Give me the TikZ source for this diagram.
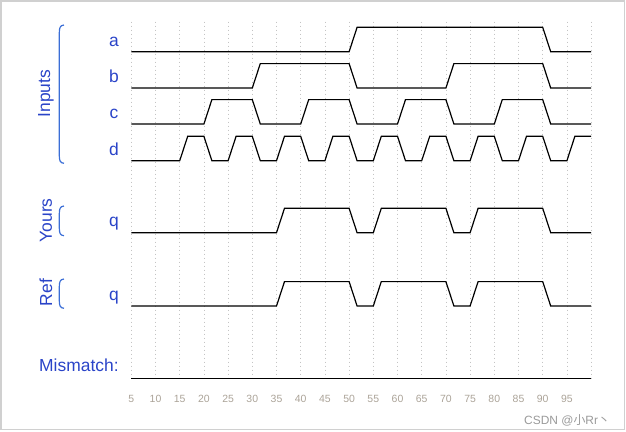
\documentclass[tikz,border=0pt]{standalone}
\usepackage{fontspec}
\setmainfont{Liberation Sans}
\newfontfamily\cjk{Noto Sans CJK SC}
\definecolor{labc}{HTML}{2A44C8}
\definecolor{brkc}{HTML}{3B6ED6}
\definecolor{gridc}{HTML}{C4C4C4}
\definecolor{tickc}{HTML}{ABA398}
\definecolor{wmc}{HTML}{9A9A9A}
\definecolor{framec}{HTML}{D0D0D0}
\begin{document}
\begin{tikzpicture}[x=1bp,y=-1bp,
  lbl/.style={text=labc, font=\fontsize{17.5}{20}\selectfont, inner sep=0pt, anchor=base},
  grp/.style={text=labc, font=\fontsize{17.5}{20}\selectfont, inner sep=0pt, rotate=90, anchor=center},
  brk/.style={draw=brkc, line width=1.2bp},
  wave/.style={draw=black, line width=1.2bp, line join=miter},
  gridl/.style={draw=gridc, line width=0.8bp, dash pattern=on 1bp off 3bp},
  tick/.style={text=tickc, font=\fontsize{10.5}{12}\selectfont, inner sep=0pt}]
\useasboundingbox (0,0) rectangle (626,431);
\draw[framec, line width=1.5bp] (1,1) rectangle (624.5,429.5);

% group labels and brackets
\node[grp] (gin) at (46,93.5) {Inputs};
\node[grp] (gyo) at (46,220.3) {Yours};
\node[grp] (gre) at (46,292.5) {Ref};
\draw[brk] (64,25) .. controls (60,25.3) and (59.3,28) .. (59.3,33) -- (59.3,155.3) .. controls (59.3,160.5) and (60,163) .. (64,163.3);
\draw[brk] (64,206) .. controls (60,206.3) and (59.3,209) .. (59.3,214) -- (59.3,227.7) .. controls (59.3,232.9) and (60,235.4) .. (64,235.7);
\draw[brk] (64,279) .. controls (60,279.3) and (59.3,282) .. (59.3,287) -- (59.3,300.3) .. controls (59.3,305.5) and (60,308) .. (64,308.3);

% signal labels
\node[lbl] (la) at (114,46) {a};
\node[lbl] (lb) at (114,82) {b};
\node[lbl] (lc) at (114,118.3) {c};
\node[lbl] (ld) at (114,155) {d};
\node[lbl] (lqy) at (114,226.7) {q};
\node[lbl] (lqr) at (114,300) {q};
\node[lbl, anchor=base west] (lm) at (39,371.7) {Mismatch:};

\begin{scope}[x=4.84bp, xshift=107.1bp]
  \foreach \t in {5,10,...,100} \draw[gridl] (\t,21.7) -- (\t,378.3);
  \foreach \t in {5,10,...,95} \node[tick] (t\t) at (\t,399.3) {\t};
  % a
  \draw[wave] (5,51.7) -- (50,51.7) -- (51.65,27.3) -- (90,27.3) -- (91.65,51.7) -- (100,51.7);
  % b
  \draw[wave] (5,88) -- (30,88) -- (31.65,63.6) -- (50,63.6) -- (51.65,88) -- (70,88) -- (71.65,63.6) -- (90,63.6) -- (91.65,88) -- (100,88);
  % c
  \draw[wave] (5,124) \foreach \t in {20,40,60,80} { -- (\t,124) -- ({\t+1.65},99.6) -- ({\t+10},99.6) -- ({\t+11.65},124)} -- (100,124);
  % d
  \draw[wave] (5,160.7) \foreach \t in {15,25,...,85} { -- (\t,160.7) -- ({\t+1.65},136.3) -- ({\t+5},136.3) -- ({\t+6.65},160.7)} -- (95,160.7) -- (96.65,136.3) -- (100,136.3);
  % yours q
  \draw[wave] (5,232.7) -- (35,232.7) -- (36.65,208.3) -- (50,208.3) -- (51.65,232.7) -- (55,232.7) -- (56.65,208.3) -- (70,208.3) -- (71.65,232.7) -- (75,232.7) -- (76.65,208.3) -- (90,208.3) -- (91.65,232.7) -- (100,232.7);
  % ref q
  \draw[wave] (5,306) -- (35,306) -- (36.65,281.6) -- (50,281.6) -- (51.65,306) -- (55,306) -- (56.65,281.6) -- (70,281.6) -- (71.65,306) -- (75,306) -- (76.65,281.6) -- (90,281.6) -- (91.65,306) -- (100,306);
  % mismatch
  \draw[wave] (5,378.3) -- (100,378.3);
\end{scope}

\node[anchor=base west, text=wmc, font=\fontsize{12}{14}\selectfont, inner sep=0pt] (wm) at (524,424.3) {CSDN @{\cjk 小}Rr{\cjk 丶}};
\end{tikzpicture}
\end{document}
